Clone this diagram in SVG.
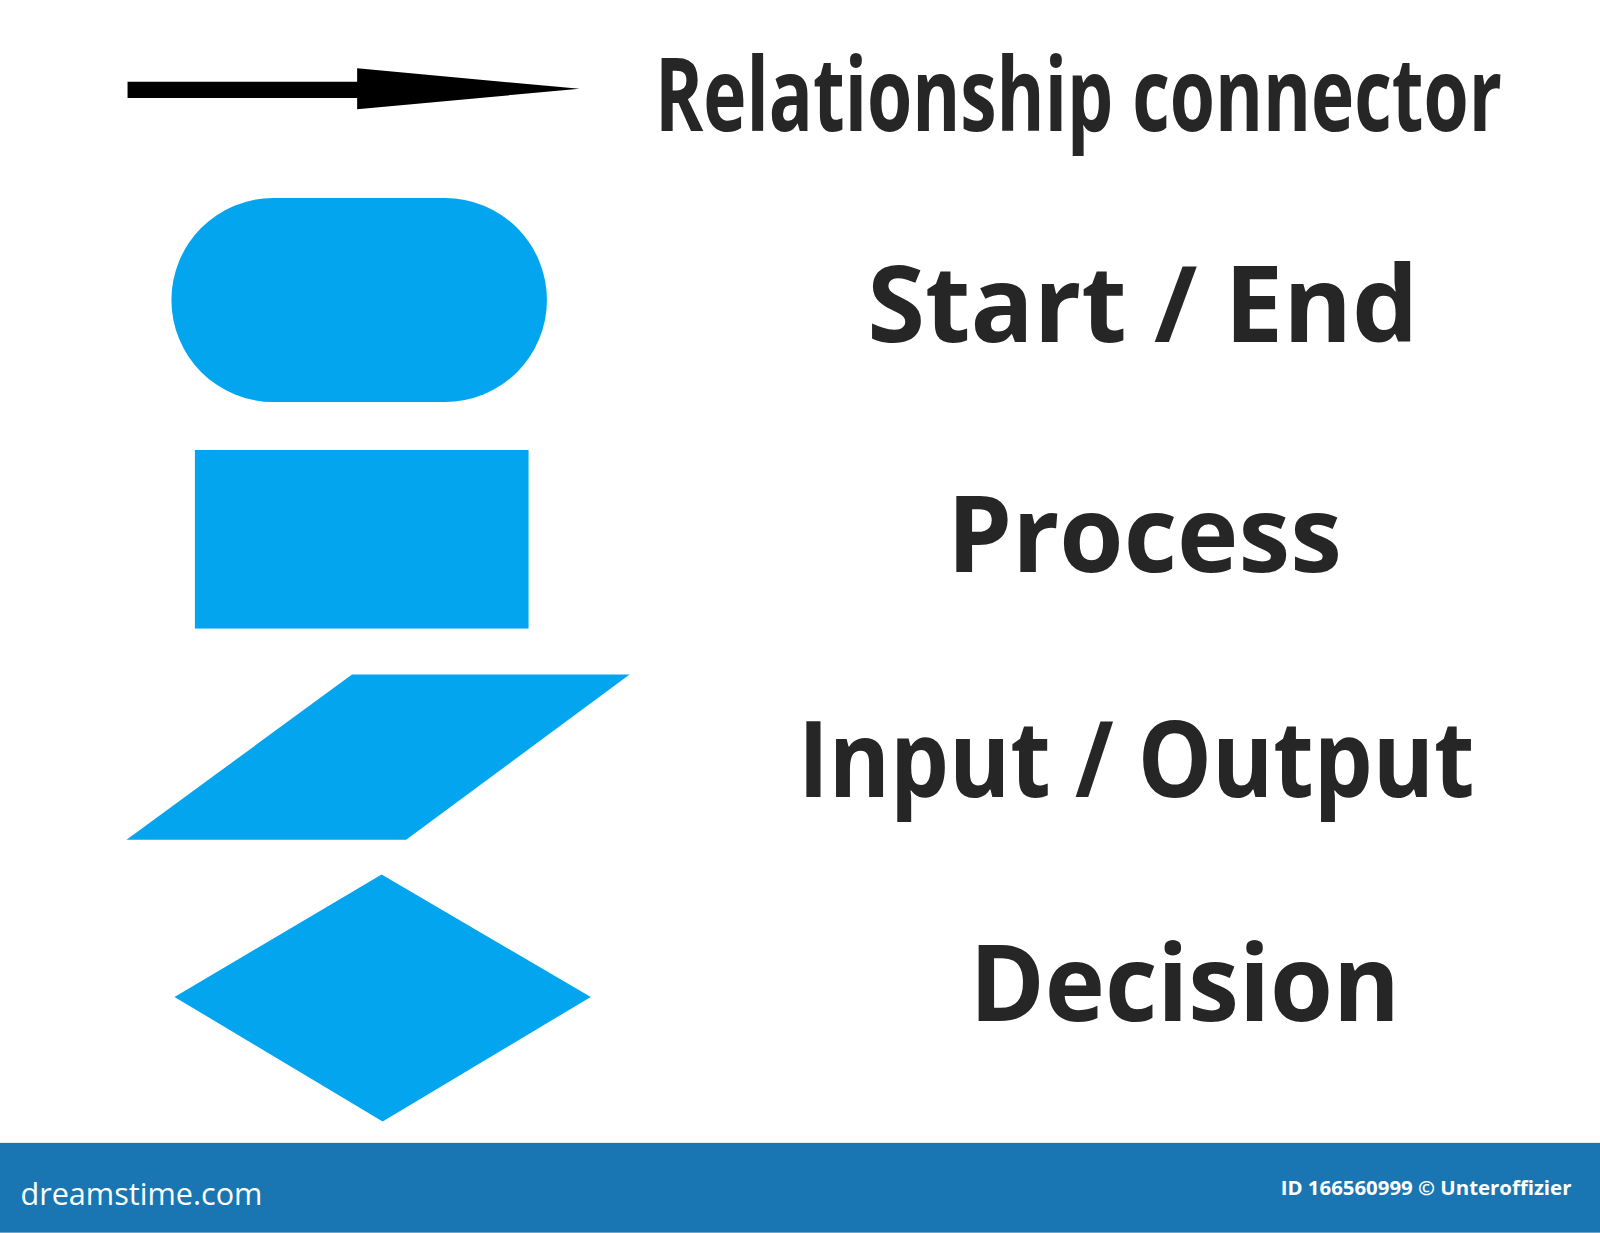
<svg xmlns="http://www.w3.org/2000/svg" width="1600" height="1233" viewBox="0 0 1600 1233">
<style>
.s{fill:#02a5ee}
.t{font-family:"Open Sans","DejaVu Sans",sans-serif;font-weight:bold;fill:#262626}
.f{font-family:"Open Sans","DejaVu Sans",sans-serif;fill:#fff}
</style>
<rect width="1600" height="1233" fill="#fff"/>
<g transform="scale(1.0204)">
<g id="connectors">
<path d="M125 80 H350 V67 L568 87 L350 107 V96 H125 Z" fill="#000"/>
</g>
<g id="label-connector"><text class="t" x="642" y="128" font-size="100" textLength="830" lengthAdjust="spacingAndGlyphs">Relationship connector</text></g>
<g id="start-end"><rect class="s" x="168" y="194" width="368" height="200" rx="100"/>
<text class="t" x="850" y="335" font-size="104" textLength="540" lengthAdjust="spacingAndGlyphs">Start / End</text></g>
<g id="process"><rect class="s" x="191" y="441" width="327" height="175"/>
<text class="t" x="928" y="561" font-size="104" textLength="387" lengthAdjust="spacingAndGlyphs">Process</text></g>
<g id="input-output"><polygon class="s" points="345,661 617,661 398,823 124,823"/>
<text class="t" x="782" y="781" font-size="104" textLength="663" lengthAdjust="spacingAndGlyphs">Input / Output</text></g>
<g id="decision"><polygon class="s" points="374,857 579,977 375,1099 171,977"/>
<text class="t" x="950" y="1001" font-size="104" textLength="422" lengthAdjust="spacingAndGlyphs">Decision</text></g>
<g id="footer"><rect x="0" y="1120" width="1568" height="88" fill="#1a76b2"/>
<text class="f" x="20" y="1181" font-size="30">dreamstime.com</text>
<text class="f" x="1540" y="1171" font-size="20" font-weight="bold" text-anchor="end">ID 166560999 © Unteroffizier</text></g>
</g>
</svg>
